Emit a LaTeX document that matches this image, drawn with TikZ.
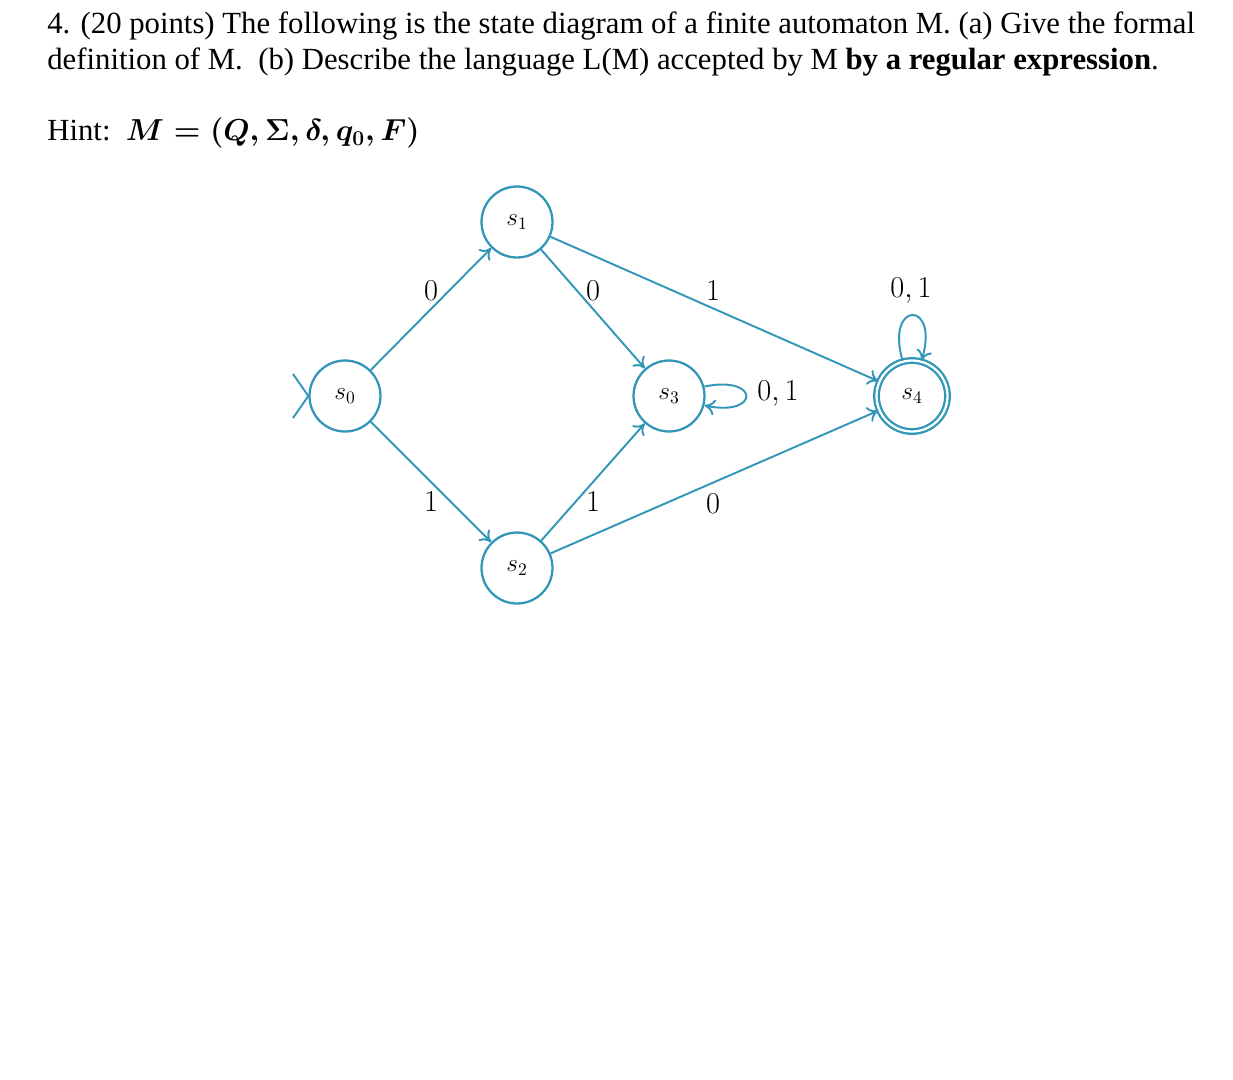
\documentclass[tikz,border=0pt]{standalone}
\usepackage{fontspec}
\setmainfont{Liberation Serif}
\usepackage{amsmath}
\usetikzlibrary{arrows.meta}
\definecolor{teal1}{RGB}{50,150,185}
\begin{document}
\begin{tikzpicture}[x=0.02cm,y=-0.02cm,
  st/.style={circle,draw=teal1,line width=1.3pt,minimum size=70\pgflinewidth,inner sep=0pt,minimum size=1.42cm,font=\fontsize{14}{16}\selectfont},
  ed/.style={draw=teal1,line width=1.1pt,-{To[length=6pt,width=9pt]}},
  lb/.style={font=\fontsize{17}{20}\selectfont},
  txt/.style={anchor=west,inner sep=0pt,font=\fontsize{17.5}{20}\selectfont}]
\useasboundingbox (0,0) rectangle (1233,1079);
\node[txt] (t1) at (47,26) {4. (20 points) The following is the state diagram of a finite automaton M. (a) Give the formal};
\node[txt] (t2) at (47,62) {definition of M.\ \ (b) Describe the language L(M) accepted by M \textbf{by a regular expression}.};
\node[txt] (t3) at (47,133) {Hint:\ \ $\boldsymbol{M = (Q,\Sigma,\delta,q_0,F)}$};
\node[st] (s0) at (345,396) {$s_0$};
\node[st] (s1) at (517,222) {$s_1$};
\node[st] (s2) at (517,568) {$s_2$};
\node[st] (s3) at (669,396) {$s_3$};
\node[st,double=white,double distance=1.3pt] (s4) at (912,396) {$s_4$};
\coordinate (in1) at (293,374);
\coordinate (in2) at (293,418);
\draw[draw=teal1,line width=1.1pt] (in1) -- (s0.west) -- (in2);
\draw[ed] (s0) -- (s1);
\draw[ed] (s0) -- (s2);
\draw[ed] (s1) -- (s3);
\draw[ed] (s1) -- (s4);
\draw[ed] (s2) -- (s3);
\draw[ed] (s2) -- (s4);
\draw[ed] (s3.15) .. controls (760,375) and (760,417) .. (s3.-15);
\draw[ed] (s4.105) .. controls (885,300) and (940,300) .. (s4.75);
\node[lb] (l1) at (431,291) {$0$};
\node[lb] (l2) at (431,502) {$1$};
\node[lb] (l3) at (593,291) {$0$};
\node[lb] (l4) at (593,502) {$1$};
\node[lb] (l5) at (713,291) {$1$};
\node[lb] (l6) at (713,504) {$0$};
\node[lb] (l7) at (778,394) {$0,1$};
\node[lb] (l8) at (911,291) {$0,1$};
\end{tikzpicture}
\end{document}
